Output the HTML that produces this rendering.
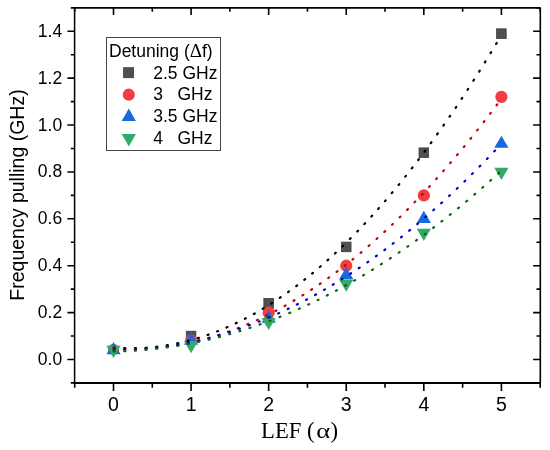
<!DOCTYPE html><html><head><meta charset="utf-8"><title>Frequency pulling vs LEF</title><style>html,body{margin:0;padding:0;background:#fff}svg{display:block}</style></head><body>
<svg width="550" height="450" viewBox="0 0 550 450">
<rect width="550" height="450" fill="#fff"/>
<rect x="186.28" y="331.22" width="9.60" height="9.60" fill="#505050" stroke="#3c3c3c" stroke-width="0.8"/>
<rect x="263.86" y="298.40" width="9.60" height="9.60" fill="#505050" stroke="#3c3c3c" stroke-width="0.8"/>
<rect x="341.44" y="242.14" width="9.60" height="9.60" fill="#505050" stroke="#3c3c3c" stroke-width="0.8"/>
<rect x="419.02" y="147.91" width="9.60" height="9.60" fill="#505050" stroke="#3c3c3c" stroke-width="0.8"/>
<rect x="496.60" y="28.83" width="9.60" height="9.60" fill="#505050" stroke="#3c3c3c" stroke-width="0.8"/>
<circle cx="113.50" cy="349.38" r="5.6" fill="#f03e42"/>
<circle cx="191.08" cy="340.71" r="6.1" fill="#f03e42"/>
<circle cx="268.66" cy="312.58" r="6.1" fill="#f03e42"/>
<circle cx="346.24" cy="265.70" r="6.1" fill="#f03e42"/>
<circle cx="423.82" cy="195.38" r="6.1" fill="#f03e42"/>
<circle cx="501.40" cy="96.92" r="6.1" fill="#f03e42"/>
<polygon points="113.50,341.95 120.60,354.15 106.40,354.15" fill="#1969dc"/>
<polygon points="191.08,332.57 198.18,344.77 183.98,344.77" fill="#1969dc"/>
<polygon points="268.66,310.54 275.76,322.74 261.56,322.74" fill="#1969dc"/>
<polygon points="346.24,266.94 353.34,279.14 339.14,279.14" fill="#1969dc"/>
<polygon points="423.82,210.68 430.92,222.88 416.72,222.88" fill="#1969dc"/>
<polygon points="501.40,135.67 508.50,147.87 494.30,147.87" fill="#1969dc"/>
<polygon points="106.40,345.78 120.60,345.78 113.50,357.98" fill="#32aa69"/>
<polygon points="183.98,341.09 198.18,341.09 191.08,353.29" fill="#32aa69"/>
<polygon points="261.56,317.89 275.76,317.89 268.66,330.09" fill="#32aa69"/>
<polygon points="339.14,279.45 353.34,279.45 346.24,291.65" fill="#32aa69"/>
<polygon points="416.72,228.81 430.92,228.81 423.82,241.01" fill="#32aa69"/>
<polygon points="494.30,167.87 508.50,167.87 501.40,180.07" fill="#32aa69"/>
<path d="M113.55 347.49L114.65 347.58M124.20 348.10L125.30 348.14M134.87 348.20L135.97 348.18M145.53 347.77L146.62 347.70M156.15 346.83L157.25 346.70M166.72 345.38L167.81 345.20M177.21 343.43L178.29 343.20M187.60 341.01L188.66 340.73M197.87 338.13L198.92 337.81M207.55 334.97L208.58 334.61M217.09 331.44L218.11 331.04M226.50 327.55L227.50 327.11M235.76 323.33L236.75 322.85M244.86 318.79L245.84 318.28M253.82 313.96L254.78 313.42M262.62 308.85L263.57 308.28M271.27 303.49L272.20 302.89M279.77 297.88L280.68 297.27M288.08 292.09L288.97 291.45M296.23 286.09L297.11 285.43M304.25 279.90L305.11 279.22M312.12 273.53L312.97 272.83M319.86 267.00L320.69 266.28M327.46 260.31L328.28 259.57M334.94 253.47L335.74 252.72M342.29 246.51L343.08 245.74M349.86 239.07L350.64 238.29M357.30 231.51L358.06 230.72M364.38 224.08L365.13 223.28M371.34 216.54L372.08 215.73M378.20 208.91L378.92 208.09M384.95 201.18L385.66 200.35M391.82 193.11L392.52 192.26M398.58 184.94L399.28 184.09M405.25 176.69L405.93 175.83M411.81 168.36L412.49 167.50M418.24 160.03L418.90 159.15M424.57 151.62L425.23 150.74M430.82 143.16L431.46 142.27M437.14 134.40L437.78 133.50M443.38 125.58L444.01 124.68M449.54 116.71L450.16 115.80M455.61 107.78L456.23 106.86M461.61 98.79L462.22 97.88M467.54 89.76L468.14 88.84M473.39 80.68L473.98 79.76M479.17 71.56L479.76 70.63M484.89 62.39L485.46 61.46M490.53 53.18L491.11 52.24M496.12 43.94L496.68 42.99" fill="none" stroke="#000" stroke-width="2.2" stroke-linecap="round"/>
<path d="M113.55 348.58L114.65 348.65M124.21 349.04L125.31 349.06M134.88 349.09L135.98 349.07M145.54 348.72L146.64 348.66M156.18 347.94L157.27 347.83M166.78 346.75L167.87 346.60M177.33 345.16L178.41 344.98M187.81 343.18L188.89 342.96M198.21 340.82L199.28 340.56M208.25 338.17L209.30 337.87M218.18 335.18L219.23 334.85M228.01 331.87L229.05 331.50M237.74 328.25L238.76 327.85M247.34 324.34L248.36 323.91M256.83 320.14L257.83 319.68M266.20 315.68L267.18 315.19M275.44 310.96L276.41 310.45M284.55 306.00L285.51 305.47M293.54 300.82L294.49 300.26M302.40 295.42L303.33 294.84M311.13 289.82L312.05 289.21M319.74 284.02L320.64 283.40M328.22 278.05L329.11 277.41M336.58 271.91L337.46 271.25M344.56 265.81L345.42 265.13M352.42 259.57L353.28 258.87M360.58 252.86L361.42 252.15M368.62 246.00L369.45 245.28M376.54 239.02L377.36 238.29M384.35 231.91L385.16 231.16M392.06 224.68L392.85 223.93M399.65 217.35L400.44 216.57M407.14 209.90L407.92 209.12M414.54 202.36L415.30 201.56M421.85 194.69L422.61 193.89M429.08 186.93L429.82 186.12M436.21 179.09L436.94 178.27M443.25 171.16L443.97 170.33M450.20 163.16L450.91 162.32M457.06 155.08L457.77 154.24M463.84 146.93L464.54 146.08M470.54 138.72L471.23 137.86M477.16 130.44L477.84 129.58M483.70 122.10L484.38 121.23M490.17 113.70L490.84 112.83M496.57 105.25L497.23 104.37" fill="none" stroke="#c40000" stroke-width="2.2" stroke-linecap="round"/>
<path d="M113.55 349.75L114.65 349.76M124.22 349.68L125.32 349.66M134.88 349.30L135.98 349.24M145.53 348.60L146.62 348.51M156.15 347.59L157.24 347.46M166.73 346.27L167.82 346.11M177.28 344.64L178.36 344.46M187.77 342.72L188.85 342.50M198.20 340.50L199.28 340.25M208.47 338.02L209.54 337.75M218.67 335.27L219.72 334.97M228.79 332.26L229.84 331.93M238.83 328.98L239.87 328.63M248.78 325.46L249.82 325.08M258.65 321.70L259.67 321.29M268.43 317.70L269.44 317.27M278.11 313.48L279.11 313.03M287.69 309.05L288.69 308.57M296.90 304.54L297.89 304.05M306.02 299.86L306.99 299.34M315.04 294.99L316.00 294.46M323.97 289.95L324.92 289.40M332.80 284.75L333.74 284.18M341.54 279.39L342.47 278.80M350.18 273.87L351.10 273.27M358.73 268.22L359.64 267.60M367.37 262.29L368.27 261.66M375.91 256.23L376.81 255.59M384.36 250.04L385.24 249.38M392.72 243.72L393.59 243.05M400.98 237.28L401.84 236.59M409.15 230.72L410.00 230.03M417.23 224.05L418.07 223.35M425.32 217.20L426.15 216.48M433.31 210.24L434.14 209.51M441.22 203.19L442.04 202.45M449.05 196.04L449.85 195.29M456.79 188.79L457.59 188.04M464.45 181.46L465.24 180.70M472.02 174.05L472.80 173.28M479.52 166.56L480.30 165.78M486.94 158.99L487.71 158.20M494.29 151.35L495.05 150.55" fill="none" stroke="#0000c4" stroke-width="2.2" stroke-linecap="round"/>
<path d="M113.55 351.42L114.65 351.41M124.21 351.15L125.31 351.11M134.87 350.61L135.97 350.54M145.51 349.81L146.60 349.71M156.12 348.75L157.22 348.62M166.71 347.43L167.80 347.27M177.26 345.85L178.35 345.67M187.77 344.02L188.85 343.81M198.23 341.94L199.31 341.71M208.61 339.62L209.68 339.37M218.92 337.07L219.99 336.79M229.18 334.29L230.24 333.99M239.37 331.28L240.43 330.96M249.50 328.05L250.54 327.70M259.55 324.61L260.59 324.24M269.53 320.96L270.56 320.57M279.44 317.10L280.46 316.69M289.26 313.05L290.28 312.62M298.77 308.92L299.77 308.47M308.20 304.61L309.19 304.14M317.54 300.13L318.53 299.65M326.81 295.50L327.79 294.99M336.00 290.70L336.97 290.18M345.11 285.75L346.07 285.21M354.13 280.65L355.09 280.10M363.08 275.41L364.02 274.85M372.07 269.96L373.00 269.38M380.97 264.37L381.90 263.78M389.87 258.60L390.78 258.00M398.68 252.71L399.59 252.09M407.40 246.69L408.30 246.06M416.05 240.56L416.94 239.91M424.61 234.31L425.49 233.65M433.09 227.95L433.96 227.28M441.49 221.48L442.36 220.81M449.81 214.92L450.67 214.23M458.05 208.25L458.90 207.56M466.22 201.49L467.06 200.79M474.31 194.64L475.14 193.93M482.32 187.71L483.15 186.98M490.27 180.69L491.09 179.95M498.13 173.58L498.95 172.84" fill="none" stroke="#006a00" stroke-width="2.2" stroke-linecap="round"/>
<g stroke="#000" fill="none">
<line x1="74.6" y1="7.85" x2="540.3" y2="7.85" stroke-width="1.8"/>
<line x1="74.6" y1="382.9" x2="540.3" y2="382.9" stroke-width="2"/>
<line x1="74.6" y1="7.85" x2="74.6" y2="382.9" stroke-width="1.5"/>
<line x1="540.3" y1="7.85" x2="540.3" y2="382.9" stroke-width="1.6"/>
<path d="M74.71 382.9V387.70M74.71 7.85V11.65M113.50 382.9V391.10M113.50 7.85V15.05M152.29 382.9V387.70M152.29 7.85V11.65M191.08 382.9V391.10M191.08 7.85V15.05M229.87 382.9V387.70M229.87 7.85V11.65M268.66 382.9V391.10M268.66 7.85V15.05M307.45 382.9V387.70M307.45 7.85V11.65M346.24 382.9V391.10M346.24 7.85V15.05M385.03 382.9V387.70M385.03 7.85V11.65M423.82 382.9V391.10M423.82 7.85V15.05M462.61 382.9V387.70M462.61 7.85V11.65M501.40 382.9V391.10M501.40 7.85V15.05M540.19 382.9V387.70M540.19 7.85V11.65M70.80 382.90H74.6M536.50 382.90H540.3M67.40 359.46H74.6M533.10 359.46H540.3M70.80 336.02H74.6M536.50 336.02H540.3M67.40 312.58H74.6M533.10 312.58H540.3M70.80 289.14H74.6M536.50 289.14H540.3M67.40 265.70H74.6M533.10 265.70H540.3M70.80 242.26H74.6M536.50 242.26H540.3M67.40 218.82H74.6M533.10 218.82H540.3M70.80 195.37H74.6M536.50 195.37H540.3M67.40 171.93H74.6M533.10 171.93H540.3M70.80 148.49H74.6M536.50 148.49H540.3M67.40 125.05H74.6M533.10 125.05H540.3M70.80 101.61H74.6M536.50 101.61H540.3M67.40 78.17H74.6M533.10 78.17H540.3M70.80 54.73H74.6M536.50 54.73H540.3M67.40 31.29H74.6M533.10 31.29H540.3M70.80 7.85H74.6M536.50 7.85H540.3" stroke-width="1.6"/>
</g>
<text x="62.2" y="364.96" font-family="'Liberation Sans', Arial, sans-serif" font-size="17.5" text-anchor="end">0.0</text>
<text x="62.2" y="318.08" font-family="'Liberation Sans', Arial, sans-serif" font-size="17.5" text-anchor="end">0.2</text>
<text x="62.2" y="271.20" font-family="'Liberation Sans', Arial, sans-serif" font-size="17.5" text-anchor="end">0.4</text>
<text x="62.2" y="224.32" font-family="'Liberation Sans', Arial, sans-serif" font-size="17.5" text-anchor="end">0.6</text>
<text x="62.2" y="177.43" font-family="'Liberation Sans', Arial, sans-serif" font-size="17.5" text-anchor="end">0.8</text>
<text x="62.2" y="130.55" font-family="'Liberation Sans', Arial, sans-serif" font-size="17.5" text-anchor="end">1.0</text>
<text x="62.2" y="83.67" font-family="'Liberation Sans', Arial, sans-serif" font-size="17.5" text-anchor="end">1.2</text>
<text x="62.2" y="36.79" font-family="'Liberation Sans', Arial, sans-serif" font-size="17.5" text-anchor="end">1.4</text>
<text x="113.50" y="410.5" font-family="'Liberation Sans', Arial, sans-serif" font-size="19.5" text-anchor="middle">0</text>
<text x="191.08" y="410.5" font-family="'Liberation Sans', Arial, sans-serif" font-size="19.5" text-anchor="middle">1</text>
<text x="268.66" y="410.5" font-family="'Liberation Sans', Arial, sans-serif" font-size="19.5" text-anchor="middle">2</text>
<text x="346.24" y="410.5" font-family="'Liberation Sans', Arial, sans-serif" font-size="19.5" text-anchor="middle">3</text>
<text x="423.82" y="410.5" font-family="'Liberation Sans', Arial, sans-serif" font-size="19.5" text-anchor="middle">4</text>
<text x="501.40" y="410.5" font-family="'Liberation Sans', Arial, sans-serif" font-size="19.5" text-anchor="middle">5</text>
<text transform="translate(23.9,195) rotate(-90)" font-family="'Liberation Sans', Arial, sans-serif" font-size="19.5" text-anchor="middle">Frequency pulling (GHz)</text>
<text x="261.1" y="438.3" font-family="'Liberation Serif', 'Times New Roman', serif" font-size="22.7">LEF (</text>
<text transform="translate(316.3,438.3) scale(1.3,1.05)" font-family="'Liberation Serif', 'Times New Roman', serif" font-size="20.5">α</text>
<text x="330.6" y="438.3" font-family="'Liberation Serif', 'Times New Roman', serif" font-size="22.7">)</text>
<rect x="106.5" y="37.5" width="114" height="113" fill="#fff" stroke="#444" stroke-width="1"/>
<text x="109" y="57.2" font-family="'Liberation Sans', Arial, sans-serif" font-size="17.5">Detuning (<tspan font-family="'Liberation Serif', 'Times New Roman', serif" font-size="19">Δ</tspan>f)</text>
<text x="153.2" y="78.9" font-family="'Liberation Sans', Arial, sans-serif" font-size="17.5">2.5 GHz</text>
<text x="153.2" y="100.3" font-family="'Liberation Sans', Arial, sans-serif" font-size="17.5">3&#160;&#160; GHz</text>
<text x="153.2" y="122.1" font-family="'Liberation Sans', Arial, sans-serif" font-size="17.5">3.5 GHz</text>
<text x="153.2" y="143.8" font-family="'Liberation Sans', Arial, sans-serif" font-size="17.5">4&#160;&#160; GHz</text>
<rect x="123.60" y="67.70" width="10.00" height="10.00" fill="#505050" stroke="#3c3c3c" stroke-width="0.8"/>
<circle cx="128.80" cy="94.70" r="6.1" fill="#f03e42"/>
<polygon points="128.8,108.6 135.9,120.9 121.7,120.9" fill="#1969dc"/>
<polygon points="121.7,134.1 135.9,134.1 128.8,146.4" fill="#32aa69"/>
</svg></body></html>
